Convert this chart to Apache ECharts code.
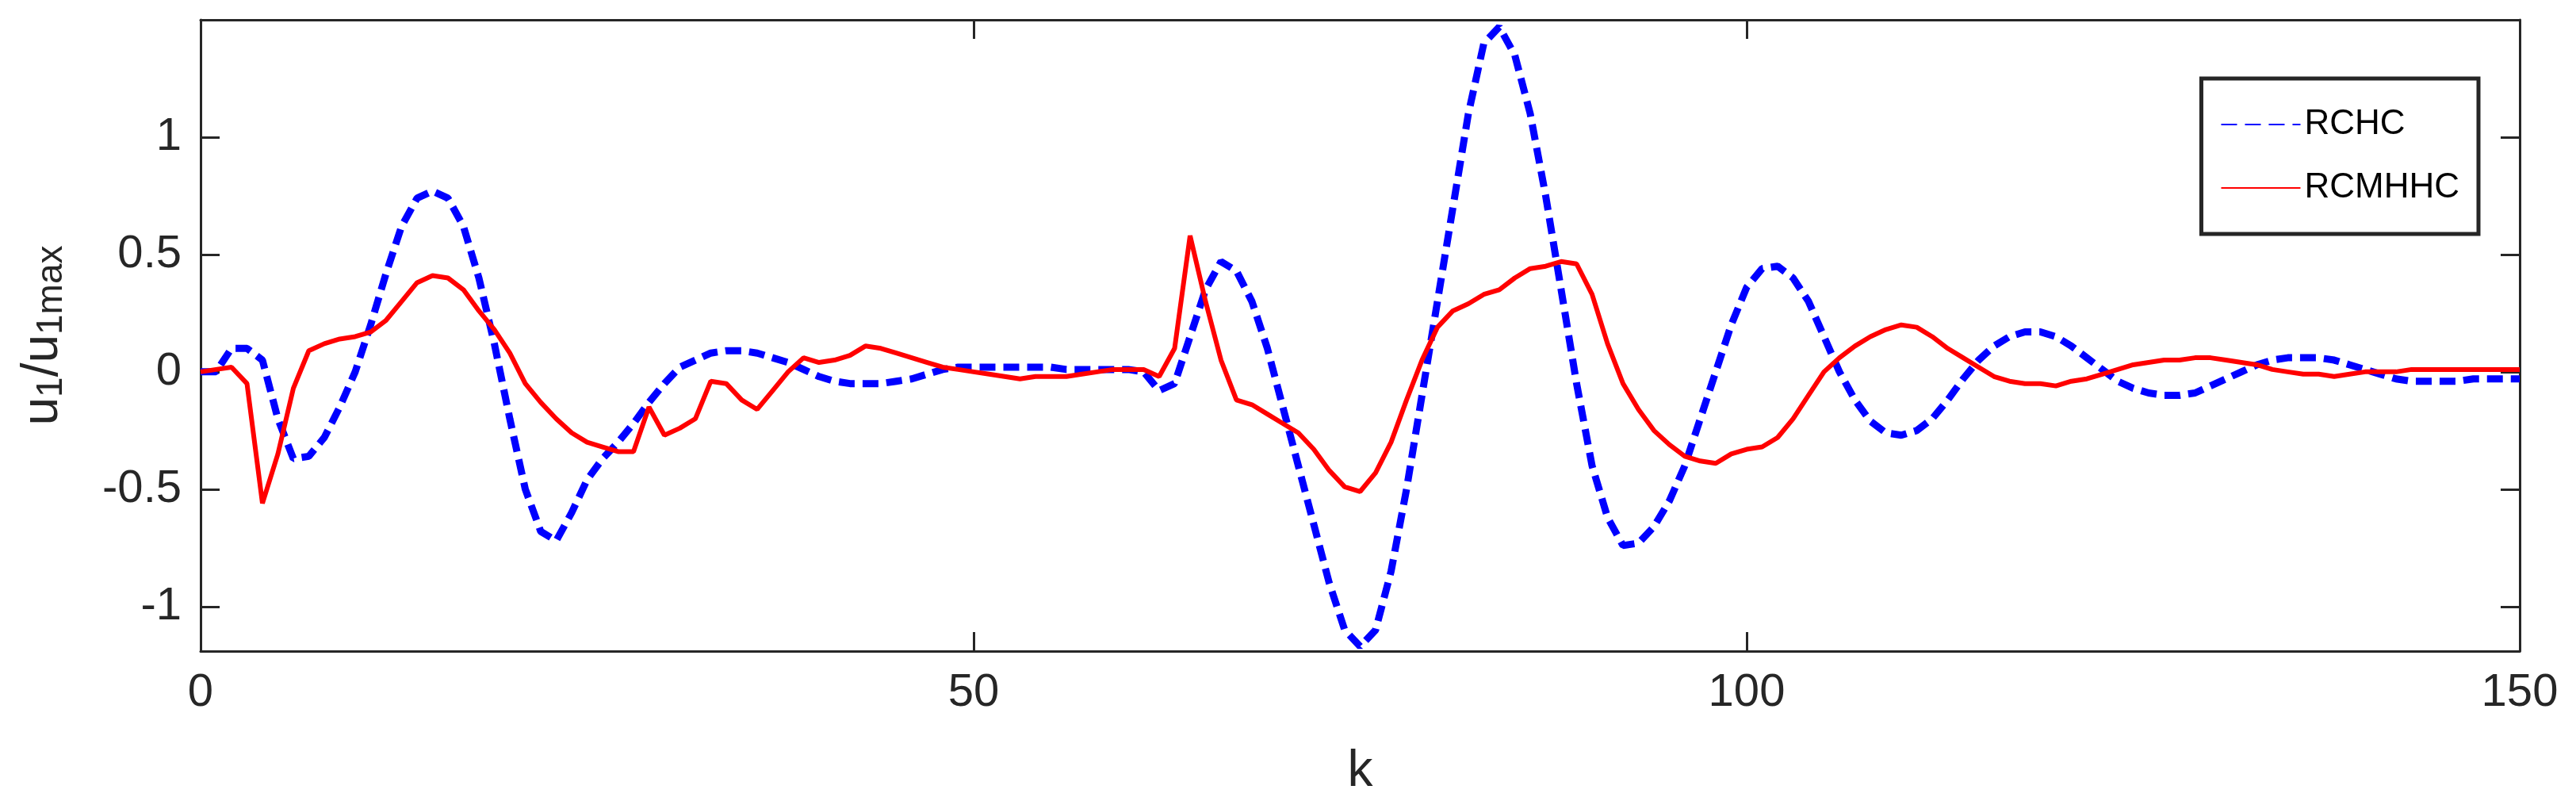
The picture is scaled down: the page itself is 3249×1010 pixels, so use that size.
<!DOCTYPE html>
<html><head><meta charset="utf-8">
<script src="https://cdn.jsdelivr.net/npm/echarts@6/dist/echarts.min.js"></script>
<style>html,body{margin:0;padding:0;background:#fff}#c{width:3249px;height:1010px}</style>
</head><body><div id="c"></div>
<script>
const k = Array.from({length:151},(_, i)=>i);
const rchc = [0,0,0.1,0.1,0.05,-0.2,-0.37,-0.36,-0.28,-0.15,0.0,
 0.2,0.42,0.62,0.74,0.77,0.74,0.62,0.4,0.12,-0.2,-0.5,-0.68,-0.72,-0.6,-0.46,-0.37,-0.3,-0.22,-0.13,-0.05,
 0.02,0.05,0.08,0.09,0.09,0.08,0.06,0.04,0.01,-0.02,-0.04,-0.05,-0.05,-0.05,-0.04,-0.03,-0.01,0.01,0.02,0.02,
 0.02,0.02,0.02,0.02,0.02,0.01,0.01,0.01,0.01,0.01,0.0,-0.08,-0.05,0.15,0.35,0.47,0.43,0.3,0.1,-0.15,
 -0.4,-0.65,-0.9,-1.1,-1.17,-1.1,-0.85,-0.5,-0.1,0.3,0.7,1.1,1.4,1.47,1.35,1.1,0.75,0.35,-0.05,-0.4,
 -0.62,-0.74,-0.73,-0.66,-0.55,-0.4,-0.2,0.0,0.2,0.36,0.44,0.45,0.4,0.3,0.15,0.0,-0.12,-0.21,-0.26,-0.27,
 -0.25,-0.2,-0.12,-0.03,0.05,0.11,0.15,0.17,0.17,0.15,0.11,0.06,0.01,-0.04,-0.07,-0.09,-0.1,-0.1,-0.09,-0.06,
 -0.03,0.0,0.03,0.05,0.06,0.06,0.06,0.05,0.03,0.01,-0.01,-0.03,-0.04,-0.04,-0.04,-0.04,-0.03,-0.03,-0.03,-0.03];
const rcmhhc = [0,0.01,0.02,-0.05,-0.56,-0.35,-0.07,0.09,0.12,0.14,0.15,
 0.17,0.22,0.3,0.38,0.41,0.4,0.35,0.26,0.18,0.08,-0.05,-0.13,-0.2,-0.26,-0.3,-0.32,-0.34,-0.34,-0.15,-0.27,
 -0.24,-0.2,-0.04,-0.05,-0.12,-0.16,-0.08,0.0,0.06,0.04,0.05,0.07,0.11,0.1,0.08,0.06,0.04,0.02,0.01,0.0,
 -0.01,-0.02,-0.03,-0.02,-0.02,-0.02,-0.01,0.0,0.01,0.01,0.01,-0.02,0.1,0.58,0.3,0.05,-0.12,-0.14,-0.18,-0.22,
 -0.26,-0.33,-0.42,-0.49,-0.51,-0.43,-0.3,-0.12,0.05,0.19,0.26,0.29,0.33,0.35,0.4,0.44,0.45,0.47,0.46,0.33,
 0.12,-0.05,-0.16,-0.25,-0.31,-0.36,-0.38,-0.39,-0.35,-0.33,-0.32,-0.28,-0.2,-0.1,0.0,0.06,0.11,0.15,0.18,0.2,
 0.19,0.15,0.1,0.06,0.02,-0.02,-0.04,-0.05,-0.05,-0.06,-0.04,-0.03,-0.01,0.01,0.03,0.04,0.05,0.05,0.06,0.06,
 0.05,0.04,0.03,0.01,0.0,-0.01,-0.01,-0.02,-0.01,0.0,0.0,0.0,0.01,0.01,0.01,0.01,0.01,0.01,0.01,0.01];
const xTicks = [0,50,100,150];
const yTicks = [-1,-0.5,0,0.5,1];

const chart = echarts.init(document.getElementById('c'));
const font = 'Liberation Sans, Arial, sans-serif';
const axLine = {show:true, onZero:false, lineStyle:{color:'#262626', width:3}};
const xTick = {show:true, inside:true, length:24, lineStyle:{color:'#262626', width:3}};
const yTick = {show:true, inside:true, length:24, customValues:yTicks, lineStyle:{color:'#262626', width:3}};
chart.setOption({
  animation:false,
  grid:{left:253, right:71, top:25, bottom:186, containLabel:false},
  legend:{
    right:123, top:99, orient:'vertical', itemWidth:100, itemHeight:12, itemGap:36,
    padding:[36,24,36,24], borderColor:'#262626', borderWidth:5, backgroundColor:'#fff',
    itemStyle:{opacity:0},
    textStyle:{fontFamily:font, fontSize:44, color:'#000'},
    data:['RCHC','RCMHHC']
  },
  xAxis:[
    {type:'value', min:0, max:150, interval:50, axisLine:axLine, axisTick:xTick,
     splitLine:{show:false}, axisLabel:{fontFamily:font, fontSize:58, color:'#262626', margin:24},
     name:'k', nameLocation:'middle', nameGap:120, nameTextStyle:{fontFamily:font, fontSize:64, color:'#262626'}},
    {type:'value', position:'top', min:0, max:150, interval:50, axisLine:axLine, axisTick:xTick,
     splitLine:{show:false}, axisLabel:{show:false}}
  ],
  yAxis:[
    {type:'value', min:-1.19, max:1.5, axisLine:axLine, axisTick:yTick, splitLine:{show:false},
     axisLabel:{fontFamily:font, fontSize:58, color:'#262626', margin:24,
       customValues:yTicks, formatter:v=>String(v)},
     name:'{m|u}{s|1}{m|/u}{s|1max}', nameLocation:'middle', nameGap:165, nameRotate:90,
     nameTextStyle:{rich:{m:{fontFamily:font, fontSize:64, color:'#262626'},
       s:{fontFamily:font, fontSize:46, color:'#262626', verticalAlign:'bottom', padding:[22,0,0,0]}}}},
    {type:'value', position:'right', min:-1.19, max:1.5, axisLine:axLine,
     axisTick:yTick, splitLine:{show:false}, axisLabel:{show:false}}
  ],
  series:[
    {name:'RCHC', type:'line', data:k.map((x,i)=>[x,rchc[i]]), showSymbol:false, symbol:'none',
     lineStyle:{color:'#0000ff', width:9, type:[20,10]}, itemStyle:{color:'#0000ff'}},
    {name:'RCMHHC', type:'line', data:k.map((x,i)=>[x,rcmhhc[i]]), showSymbol:false, symbol:'none',
     lineStyle:{color:'#ff0000', width:6}, itemStyle:{color:'#ff0000'}}
  ]
});
</script></body></html>
